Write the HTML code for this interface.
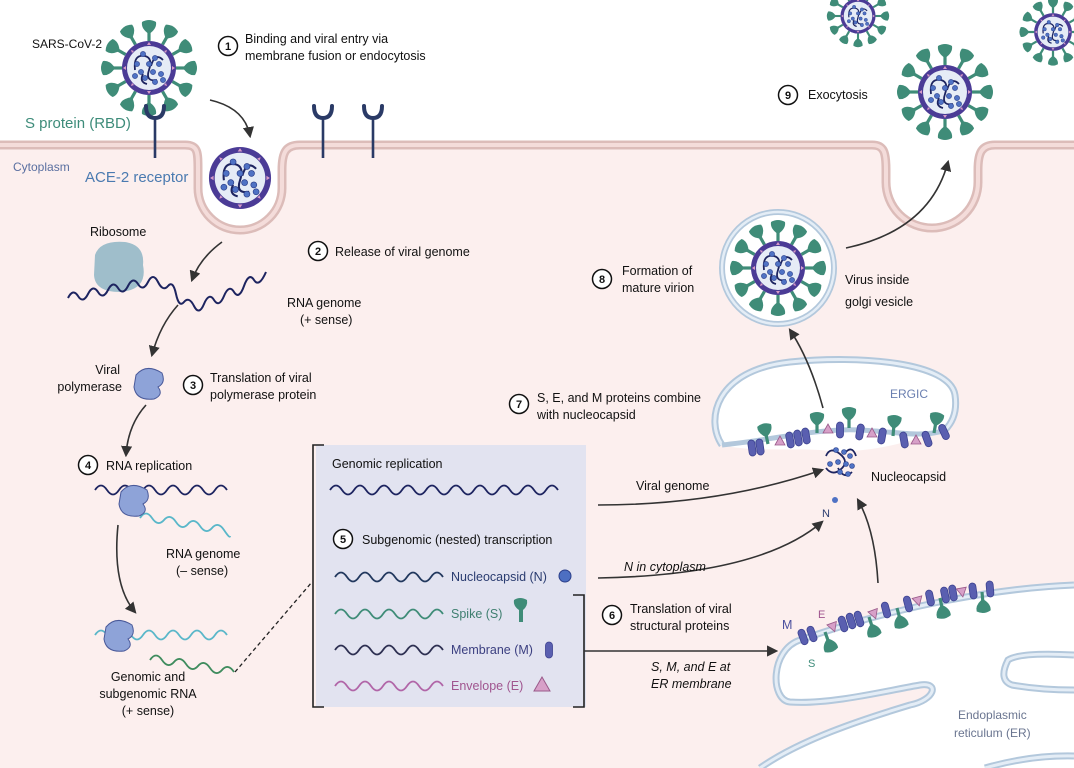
<!DOCTYPE html>
<html><head><meta charset="utf-8"><style>
html,body{margin:0;padding:0;background:#fff}
svg{display:block}
text{font-family:"Liberation Sans",sans-serif;font-size:12.5px;fill:#111}
.n{font-weight:bold;font-size:11px;text-anchor:middle}
</style></head><body>
<svg width="1074" height="768" viewBox="0 0 1074 768" xmlns="http://www.w3.org/2000/svg">
<defs>
<marker id="ah" viewBox="0 0 10 10" refX="8" refY="5" markerWidth="7" markerHeight="7" orient="auto"><path d="M0,0 L10,5 L0,10 Z" fill="#333"/></marker>
<g id="spk"><rect x="-1.6" y="-11" width="3.2" height="11" fill="#3f8c78"/><path d="M-1.5,-8 Q-8,-13 -7,-19 Q0,-23 7,-19 Q8,-13 1.5,-8 Z" fill="#3f8c78"/></g>
<g id="core">
<circle r="27" fill="#4b3b96"/>
<circle r="22" fill="#e6ecf6"/>
<g fill="#d79ac8">
<path d="M0,-26 l2,3 h-4z"/><path d="M0,26 l2,-3 h-4z"/><path d="M-26,0 l3,2 v-4z"/><path d="M26,0 l-3,2 v-4z"/>
<path d="M18,-18 l-1,3 l-2,-2z"/><path d="M-18,18 l1,-3 l2,2z"/><path d="M18,18 l-3,-1 l2,-2z"/><path d="M-18,-18 l3,1 l-2,2z"/>
</g>
<path d="M-14,2 Q-16,-14 -4,-12 Q4,-10 0,2 Q-4,14 8,12 M2,-2 Q6,-16 14,-8 M-6,6 Q-10,14 -2,16" fill="none" stroke="#1d2460" stroke-width="1.8"/>
<g fill="#4f72c4" stroke="#2c3f8a" stroke-width=".6">
<circle cx="-12" cy="-4" r="2.6"/><circle cx="-8" cy="4" r="2.6"/><circle cx="-14" cy="8" r="2.6"/><circle cx="-4" cy="10" r="2.6"/>
<circle cx="6" cy="-10" r="2.6"/><circle cx="10" cy="-4" r="2.6"/><circle cx="4" cy="4" r="2.6"/><circle cx="12" cy="6" r="2.6"/>
<circle cx="6" cy="14" r="2.6"/><circle cx="0" cy="-4" r="2.6"/><circle cx="14" cy="12" r="2.6"/><circle cx="-6" cy="-14" r="2.6"/>
</g>
</g>
<g id="vir">
<g><use href="#spk" transform="rotate(0) translate(0,-27)"/><use href="#spk" transform="rotate(30) translate(0,-27)"/><use href="#spk" transform="rotate(60) translate(0,-27)"/><use href="#spk" transform="rotate(90) translate(0,-27)"/><use href="#spk" transform="rotate(120) translate(0,-27)"/><use href="#spk" transform="rotate(150) translate(0,-27)"/><use href="#spk" transform="rotate(180) translate(0,-27)"/><use href="#spk" transform="rotate(210) translate(0,-27)"/><use href="#spk" transform="rotate(240) translate(0,-27)"/><use href="#spk" transform="rotate(270) translate(0,-27)"/><use href="#spk" transform="rotate(300) translate(0,-27)"/><use href="#spk" transform="rotate(330) translate(0,-27)"/></g>
<use href="#core"/>
</g>
<g id="mp"><rect x="-3.5" y="-8" width="7" height="16" rx="3.5" fill="#5a5fb0" stroke="#3d4290" stroke-width=".8"/></g>
<g id="ep"><path d="M0,-5 L5,4 L-5,4 Z" fill="#d7a0c8" stroke="#9a5a8a" stroke-width=".8"/></g>
<g id="rec"><path d="M-9,-14 Q-9,-2 0,-2 Q9,-2 9,-14" fill="none" stroke="#2a3a66" stroke-width="4" stroke-linecap="round"/><rect x="-1.3" y="-2" width="2.6" height="40" fill="#2a3a66"/></g>
<g id="pol"><path d="M-14,-8 Q-4,-20 12,-10 Q16,0 8,4 Q14,12 4,16 Q-14,18 -16,4 Z" fill="#8ea3d8" stroke="#4a5a9a" stroke-width="1"/></g>
</defs>

<!-- cell -->
<path d="M0,145 H185 C198,145 198,152 198,170 V188 A42,42 0 0 0 282,188 V170 C282,152 286,145 300,145 H872 C884,145 886,152 886,170 V182 A46,46 0 0 0 978,182 V170 C978,152 982,145 995,145 H1074 V768 H0 Z" fill="#fcefee"/>
<path d="M0,145 H185 C198,145 198,152 198,170 V188 A42,42 0 0 0 282,188 V170 C282,152 286,145 300,145 H872 C884,145 886,152 886,170 V182 A46,46 0 0 0 978,182 V170 C978,152 982,145 995,145 H1074" fill="none" stroke="#dcbcb9" stroke-width="9"/>
<path d="M0,145 H185 C198,145 198,152 198,170 V188 A42,42 0 0 0 282,188 V170 C282,152 286,145 300,145 H872 C884,145 886,152 886,170 V182 A46,46 0 0 0 978,182 V170 C978,152 982,145 995,145 H1074" fill="none" stroke="#f4dcda" stroke-width="4"/>

<!-- ER -->
<path d="M1074,585 C1000,588 900,605 800,640 C770,650 770,700 790,702 C830,705 890,690 920,685 C940,682 935,700 910,705 C860,720 800,740 765,768 H1074 Z" fill="#fff"/>
<path d="M1074,585 C1000,588 900,605 800,640 C770,650 770,700 790,702 C830,705 890,690 920,685 C940,682 935,700 910,705 C860,720 800,740 760,768 M985,768 Q1030,755 1074,756 M1074,655 Q1020,652 1008,660 Q998,680 1012,685 Q1040,690 1074,690" fill="none" stroke="#b3c8dc" stroke-width="7"/>
<path d="M1074,585 C1000,588 900,605 800,640 C770,650 770,700 790,702 C830,705 890,690 920,685 C940,682 935,700 910,705 C860,720 800,740 760,768 M985,768 Q1030,755 1074,756 M1074,655 Q1020,652 1008,660 Q998,680 1012,685 Q1040,690 1074,690" fill="none" stroke="#e4edf6" stroke-width="3"/>
<g>
<use href="#mp" transform="translate(803,637) rotate(-20)"/><use href="#mp" transform="translate(812,634) rotate(-20)"/>
<use href="#spk" transform="translate(825,632) rotate(160)"/>
<use href="#ep" transform="translate(833,627) rotate(160)"/>
<use href="#mp" transform="translate(843,624) rotate(-18)"/><use href="#mp" transform="translate(851,621) rotate(-18)"/><use href="#mp" transform="translate(859,619) rotate(-18)"/>
<use href="#ep" transform="translate(874,614) rotate(160)"/>
<use href="#spk" transform="translate(869,617) rotate(162)"/>
<use href="#mp" transform="translate(886,610) rotate(-15)"/>
<use href="#spk" transform="translate(897,608) rotate(165)"/>
<use href="#mp" transform="translate(908,604) rotate(-15)"/>
<use href="#ep" transform="translate(918,601) rotate(165)"/>
<use href="#mp" transform="translate(930,598) rotate(-12)"/><use href="#mp" transform="translate(945,595) rotate(-12)"/>
<use href="#spk" transform="translate(940,598) rotate(168)"/>
<use href="#mp" transform="translate(953,593) rotate(-10)"/>
<use href="#ep" transform="translate(962,592) rotate(170)"/>
<use href="#mp" transform="translate(973,591) rotate(-8)"/>
<use href="#spk" transform="translate(982,592) rotate(175)"/>
<use href="#mp" transform="translate(990,589) rotate(-5)"/>
</g>

<!-- ERGIC -->
<path d="M722,445 C705,420 715,370 790,362 C860,355 950,362 955,395 C958,415 950,425 945,430 C900,445 860,455 820,450 C790,448 750,452 722,445 Z" fill="#fff"/>
<path d="M722,445 C705,420 715,370 790,362 C860,355 950,362 955,395 C958,415 950,425 945,430" fill="none" stroke="#b3c8dc" stroke-width="7"/>
<path d="M722,445 C705,420 715,370 790,362 C860,355 950,362 955,395 C958,415 950,425 945,430" fill="none" stroke="#e4edf6" stroke-width="3"/>
<path d="M722,445 C770,440 800,432 840,430 C880,428 920,440 945,430" fill="none" stroke="#b3c8dc" stroke-width="5"/>
<g>
<use href="#mp" transform="translate(752,448) rotate(-8)"/><use href="#mp" transform="translate(760,447) rotate(-8)"/>
<use href="#spk" transform="translate(768,444) rotate(-12)"/>
<use href="#ep" transform="translate(780,441)"/>
<use href="#mp" transform="translate(790,440) rotate(-10)"/><use href="#mp" transform="translate(798,438) rotate(-10)"/><use href="#mp" transform="translate(806,436) rotate(-10)"/>
<use href="#spk" transform="translate(817,433)"/>
<use href="#ep" transform="translate(828,429)"/>
<use href="#mp" transform="translate(840,430)"/>
<use href="#spk" transform="translate(849,428)"/>
<use href="#mp" transform="translate(860,432) rotate(10)"/>
<use href="#ep" transform="translate(872,433)"/>
<use href="#mp" transform="translate(882,436) rotate(10)"/>
<use href="#spk" transform="translate(893,436) rotate(5)"/>
<use href="#mp" transform="translate(904,440) rotate(-10)"/>
<use href="#ep" transform="translate(916,440)"/>
<use href="#mp" transform="translate(927,439) rotate(-20)"/>
<use href="#spk" transform="translate(934,433) rotate(10)"/>
<use href="#mp" transform="translate(944,432) rotate(-25)"/>
</g>

<!-- golgi vesicle -->
<circle cx="778" cy="268" r="56" fill="#fff" stroke="#b3c8dc" stroke-width="6"/>
<circle cx="778" cy="268" r="56" fill="none" stroke="#e4edf6" stroke-width="2.5"/>
<use href="#vir" transform="translate(778,268)"/>

<!-- viruses outside -->
<use href="#vir" transform="translate(149,68)"/>
<use href="#core" transform="translate(240,178) scale(1.15)"/>
<use href="#vir" transform="translate(945,92)"/>
<use href="#vir" transform="translate(858,16) scale(0.65)"/>
<use href="#vir" transform="translate(1053,32) scale(0.7)"/>

<!-- receptors -->
<use href="#rec" transform="translate(155,120)"/>
<use href="#rec" transform="translate(323,120)"/>
<use href="#rec" transform="translate(373,120)"/>

<!-- ribosome + RNA -->
<path d="M95,255 Q100,240 125,242 Q145,245 143,265 Q148,290 120,292 Q95,292 94,275 Z" fill="#9fbecb"/>
<path d="M68,298 q5,-10 10,-2 t10,-2 t10,-2 t10,-2 t10,-2 t10,-2 t10,-2 t10,-2 t10,0 t10,4 t8,8 t8,8 t10,4 t10,-2 t10,-4 t10,-4 t10,-4 t10,-6 t10,-6 t12,-8" fill="none" stroke="#1d2460" stroke-width="2"/>

<!-- polymerases and RNA -->
<use href="#pol" transform="translate(150,383)"/>
<path d="M95,490 q6,-9 12,0 t12,0 t12,0 t12,0 t12,0 t12,0 t12,0 t12,0 t12,0 t12,0 t12,0" fill="none" stroke="#1d2460" stroke-width="1.8"/>
<path d="M140,518 q6,-9 12,0 t12,2 t12,2 t12,2 t12,2 t12,2 t12,2 t6,6" fill="none" stroke="#5ab7c9" stroke-width="1.8"/>
<use href="#pol" transform="translate(135,500)"/>
<path d="M95,635 q6,-9 12,0 t12,0 t12,0 t12,0 t12,0 t12,0 t12,0 t12,0 t12,0 t12,0 t12,0" fill="none" stroke="#5ab7c9" stroke-width="1.8"/>
<path d="M150,660 q6,-9 12,0 t12,2 t12,2 t12,2 t12,2 t12,2 t12,2" fill="none" stroke="#3f8c5e" stroke-width="1.8"/>
<use href="#pol" transform="translate(120,635)"/>
<line x1="235" y1="672" x2="312" y2="582" stroke="#222" stroke-width="1.3" stroke-dasharray="4,3"/>

<!-- box -->
<rect x="316" y="445" width="270" height="262" fill="#e2e3f0"/>
<path d="M324,445 H313 V707 H324" fill="none" stroke="#222" stroke-width="1.6"/>
<path d="M573,595 H584 V707 H573" fill="none" stroke="#222" stroke-width="1.6"/>
<text x="332" y="468">Genomic replication</text>
<path d="M330,490 q6,-9 12,0 t12,0 t12,0 t12,0 t12,0 t12,0 t12,0 t12,0 t12,0 t12,0 t12,0 t12,0 t12,0 t12,0 t12,0 t12,0 t12,0 t12,0 t12,0" fill="none" stroke="#1d2460" stroke-width="1.8"/>
<circle cx="343" cy="539" r="9.5" fill="#fff" stroke="#111" stroke-width="1.5"/><text class="n" x="343" y="543">5</text>
<text x="362" y="544">Subgenomic (nested) transcription</text>
<path d="M335,577 q6,-9 12,0 t12,0 t12,0 t12,0 t12,0 t12,0 t12,0 t12,0 t12,0" fill="none" stroke="#22385e" stroke-width="1.8"/>
<text x="451" y="581" style="fill:#2a3c70">Nucleocapsid (N)</text>
<circle cx="565" cy="576" r="6" fill="#4d6fc2" stroke="#2c3f8a"/>
<path d="M335,614 q6,-9 12,0 t12,0 t12,0 t12,0 t12,0 t12,0 t12,0 t12,0 t12,0" fill="none" stroke="#3f8c78" stroke-width="1.8"/>
<text x="451" y="618" style="fill:#3f7f70">Spike (S)</text>
<path d="M514,600 Q520,596 527,600 Q528,606 523,610 L523,622 L519,622 L519,610 Q513,606 514,600 Z" fill="#3f8c78"/>
<path d="M335,650 q6,-9 12,0 t12,0 t12,0 t12,0 t12,0 t12,0 t12,0 t12,0 t12,0" fill="none" stroke="#2e3052" stroke-width="1.8"/>
<text x="451" y="654" style="fill:#3b3f80">Membrane (M)</text>
<use href="#mp" transform="translate(549,650)"/>
<path d="M335,686 q6,-9 12,0 t12,0 t12,0 t12,0 t12,0 t12,0 t12,0 t12,0 t12,0" fill="none" stroke="#b166a8" stroke-width="1.8"/>
<text x="451" y="690" style="fill:#a0558f">Envelope (E)</text>
<path d="M542,677 L550,691 L534,691 Z" fill="#d7a0c8" stroke="#9a5a8a"/>

<!-- arrows -->
<g fill="none" stroke="#333" stroke-width="1.6" marker-end="url(#ah)">
<path d="M210,100 Q245,108 250,136"/>
<path d="M222,242 Q200,258 192,280"/>
<path d="M178,305 Q160,325 152,355"/>
<path d="M146,405 Q128,425 126,455"/>
<path d="M118,525 Q112,585 135,612"/>
<path d="M598,505 Q720,505 822,470"/>
<path d="M598,578 Q760,575 822,522"/>
<path d="M584,651 H776"/>
<path d="M878,583 Q875,530 858,500"/>
<path d="M823,408 Q810,360 790,330"/>
<path d="M846,248 Q930,230 948,162"/>
</g>

<!-- nucleocapsid -->
<g transform="translate(840,462)">
<path d="M-14,-6 Q-10,-16 0,-8 Q10,0 0,8 Q-8,14 -14,6 M4,-8 Q12,-18 16,-6 M-2,6 Q4,18 12,10" fill="none" stroke="#1d2460" stroke-width="1.8"/>
<g fill="#4f72c4" stroke="#2c3f8a" stroke-width=".6"><circle cx="-4" cy="-12" r="2.5"/><circle cx="4" cy="-10" r="2.5"/><circle cx="10" cy="-6" r="2.5"/><circle cx="-2" cy="0" r="2.5"/><circle cx="6" cy="2" r="2.5"/><circle cx="12" cy="4" r="2.5"/><circle cx="0" cy="10" r="2.5"/><circle cx="8" cy="12" r="2.5"/><circle cx="-10" cy="2" r="2.5"/></g>
</g>
<circle cx="835" cy="500" r="3" fill="#4f72c4"/>

<!-- labels -->
<text x="32" y="48" style="font-size:12px">SARS-CoV-2</text>
<circle cx="228" cy="46" r="9.5" fill="#fff" stroke="#111" stroke-width="1.5"/><text class="n" x="228" y="50">1</text>
<text x="245" y="43">Binding and viral entry via</text>
<text x="245" y="60">membrane fusion or endocytosis</text>
<text x="25" y="128" style="font-size:15px;fill:#3e8c7a">S protein (RBD)</text>
<text x="13" y="171" style="font-size:12px;fill:#5a6fa0">Cytoplasm</text>
<text x="85" y="182" style="font-size:15px;fill:#4a7ab0">ACE-2 receptor</text>
<text x="90" y="236">Ribosome</text>
<circle cx="318" cy="251" r="9.5" fill="#fff" stroke="#111" stroke-width="1.5"/><text class="n" x="318" y="255">2</text>
<text x="335" y="256">Release of viral genome</text>
<text x="287" y="307">RNA genome</text>
<text x="300" y="324">(+ sense)</text>
<text x="120" y="374" text-anchor="end">Viral</text>
<text x="122" y="391" text-anchor="end">polymerase</text>
<circle cx="193" cy="385" r="9.5" fill="#fff" stroke="#111" stroke-width="1.5"/><text class="n" x="193" y="389">3</text>
<text x="210" y="382">Translation of viral</text>
<text x="210" y="399">polymerase protein</text>
<circle cx="88" cy="465" r="9.5" fill="#fff" stroke="#111" stroke-width="1.5"/><text class="n" x="88" y="469">4</text>
<text x="106" y="470">RNA replication</text>
<text x="166" y="558">RNA genome</text>
<text x="176" y="575">(– sense)</text>
<text x="148" y="681" text-anchor="middle">Genomic and</text>
<text x="148" y="698" text-anchor="middle">subgenomic RNA</text>
<text x="148" y="715" text-anchor="middle">(+ sense)</text>
<text x="636" y="490">Viral genome</text>
<text x="624" y="571" style="font-style:italic">N in cytoplasm</text>
<circle cx="612" cy="615" r="9.5" fill="#fff" stroke="#111" stroke-width="1.5"/><text class="n" x="612" y="619">6</text>
<text x="630" y="613">Translation of viral</text>
<text x="630" y="630">structural proteins</text>
<text x="651" y="671" style="font-style:italic">S, M, and E at</text>
<text x="651" y="688" style="font-style:italic">ER membrane</text>
<text x="782" y="629" style="fill:#4a4f9e">M</text>
<text x="818" y="618" style="fill:#a0558f;font-size:11px">E</text>
<text x="808" y="667" style="fill:#3e8c7a;font-size:11px">S</text>
<text x="871" y="481">Nucleocapsid</text>
<text x="822" y="517" style="font-size:11px;fill:#2a3c70">N</text>
<text x="890" y="398" style="font-size:12px;fill:#6a7fb0">ERGIC</text>
<text x="958" y="719" style="font-size:12px;fill:#6a7590">Endoplasmic</text>
<text x="954" y="737" style="font-size:12px;fill:#6a7590">reticulum (ER)</text>
<circle cx="519" cy="404" r="9.5" fill="#fff" stroke="#111" stroke-width="1.5"/><text class="n" x="519" y="408">7</text>
<text x="537" y="402">S, E, and M proteins combine</text>
<text x="537" y="419">with nucleocapsid</text>
<circle cx="602" cy="279" r="9.5" fill="#fff" stroke="#111" stroke-width="1.5"/><text class="n" x="602" y="283">8</text>
<text x="622" y="275">Formation of</text>
<text x="622" y="292">mature virion</text>
<text x="845" y="284">Virus inside</text>
<text x="845" y="306">golgi vesicle</text>
<circle cx="788" cy="95" r="9.5" fill="#fff" stroke="#111" stroke-width="1.5"/><text class="n" x="788" y="99">9</text>
<text x="808" y="99">Exocytosis</text>
</svg>
</body></html>
